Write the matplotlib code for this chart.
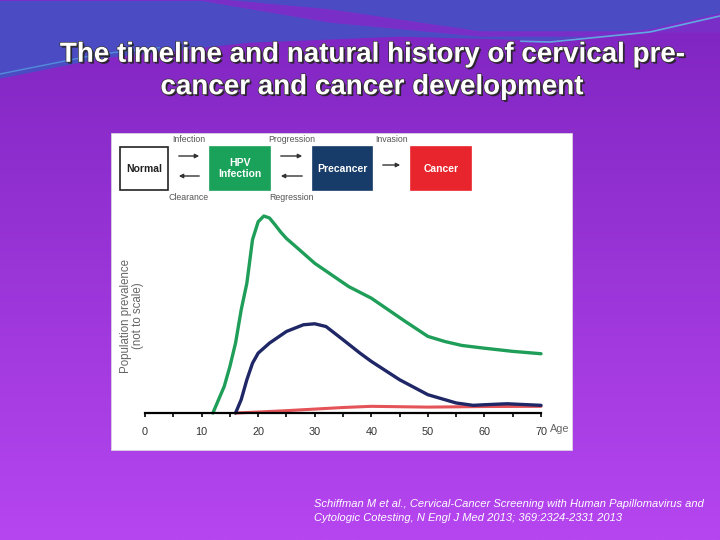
import numpy as np
import matplotlib
matplotlib.use("Agg")
import matplotlib.pyplot as plt
import matplotlib.patheffects as pe
from matplotlib.patches import Rectangle, FancyArrowPatch

# ------------------------------------------------------------------------------
# data (prevalence in arbitrary units, peak = 100)
#
green_age = [12, 13, 14, 15, 16, 17, 18, 19, 20, 21, 22, 23, 24, 25, 27, 30,
             33, 36, 40, 43, 46, 50, 53, 56, 60, 65, 70]
green_val = [0, 6.8, 13.5, 23.6, 35.5, 52.4, 65.9, 88.0, 97.1, 100, 99.0, 95.5,
             91.8, 88.6, 83.6, 76.0, 70.1, 64.2, 58.3, 52.4, 46.5, 38.9, 36.3,
             34.3, 32.9, 31.3, 30.1]

navy_age = [16, 17, 18, 19, 20, 22, 25, 28, 30, 32, 35, 38, 40, 45, 50, 55,
            58, 60, 64, 70]
navy_val = [0, 6.8, 16.9, 25.3, 30.4, 35.5, 41.4, 44.8, 45.3, 43.9, 37.2, 30.4,
            26.2, 16.9, 9.3, 5.1, 3.9, 4.2, 4.7, 3.9]

red_age = [16, 20, 25, 30, 35, 40, 50, 60, 70]
red_val = [0, 0.5, 1.2, 2.0, 2.8, 3.4, 3.0, 3.3, 3.4]

age_ticks = [0, 10, 20, 30, 40, 50, 60, 70]

stages = ["Normal", "HPV\nInfection", "Precancer", "Cancer"]
stage_colors = ["white", "#1aa15a", "#173c6a", "#e8242c"]
forward_labels = ["Infection", "Progression", "Invasion"]
backward_labels = ["Clearance", "Regression", None]

title_lines = "The timeline and natural history of cervical pre-\ncancer and cancer development"
citation = ("Schiffman M et al., Cervical-Cancer Screening with Human Papillomavirus and\n"
            "Cytologic Cotesting, N Engl J Med 2013; 369:2324-2331 2013")

W, H = 720, 540
figure = plt.figure(figsize=(W / 100, H / 100), dpi=100)

# ------------------------------------------------------------------------------
# slide background
#
bg = figure.add_axes([0, 0, 1, 1])
bg.set_xlim(0, W)
bg.set_ylim(H, 0)
bg.axis("off")

top = np.array([0x7e, 0x24, 0xc0]) / 255
bottom = np.array([0xb6, 0x46, 0xf0]) / 255
t = np.linspace(0, 1, 256)[:, None]
grad = (top * (1 - t) + bottom * t)[:, None, :].repeat(2, axis=1)
bg.imshow(grad, extent=[0, W, H, 0], aspect="auto", zorder=0)

wx = np.linspace(0, W, 200)
wave = np.interp(wx, [0, 100, 250, 400, 550, 650, 720], [78, 58, 42, 36, 40, 30, 14])
bg.fill_between(wx, 0, wave, color="#4b4cc4", zorder=1)
stripe_top = np.interp(wx, [0, 220, 330, 480, 720], [0, 0, 10, 32, 32])
stripe_bot = np.interp(wx, [0, 200, 330, 480, 720], [0, 0, 22, 36, 36])
bg.fill_between(wx, stripe_top, np.minimum(stripe_bot, wave), color="#7a2ec8", zorder=1)
bg.plot(wx[wx > 520], wave[wx > 520] + 2, color="#58c8e8", lw=1.2, alpha=0.8, zorder=2)
bg.plot(wx[wx < 160], wave[wx < 160] - 4, color="#58b8e8", lw=1.0, alpha=0.6, zorder=2)

shadow = [pe.withSimplePatchShadow(offset=(1.3, -1.3), shadow_rgbFace="#222222", alpha=0.9),
          pe.withStroke(linewidth=1.0, foreground="#333333")]
bg.text(372, 71, title_lines, ha="center", va="center", color="white",
        fontsize=20, fontweight="bold", family="Liberation Sans",
        linespacing=1.32, path_effects=shadow, zorder=5)

bg.text(314, 511, citation, ha="left", va="center", color="white",
        fontsize=8, style="italic", family="Liberation Sans",
        linespacing=1.45, zorder=5)

# white panel
bg.add_patch(Rectangle((111, 133), 461, 317, facecolor="white", edgecolor="#dddddd",
                       lw=0.5, zorder=3))

# ------------------------------------------------------------------------------
# stage diagram
#
box_left = [120, 210, 313, 411]
box_width = [48, 60, 59, 60]
box_top, box_h = 147, 43
for index, name in enumerate(stages):
    face = stage_colors[index]
    bg.add_patch(Rectangle((box_left[index], box_top), box_width[index], box_h,
                           facecolor=face,
                           edgecolor="#222222" if face == "white" else face,
                           lw=1.2, zorder=4))
    bg.text(box_left[index] + box_width[index] / 2, box_top + box_h / 2, name,
            ha="center", va="center", fontsize=7.5, fontweight="bold",
            color="#222222" if face == "white" else "white",
            family="Liberation Sans", linespacing=1.1, zorder=5)

for index in range(len(forward_labels)):
    x0 = box_left[index] + box_width[index] + 8
    x1 = box_left[index + 1] - 8
    xm = (x0 + x1) / 2
    if backward_labels[index] is None:
        ys = [165]
    else:
        ys = [156, 176]
    bg.add_patch(FancyArrowPatch((x0, ys[0]), (x1, ys[0]), arrowstyle="-|>",
                                 mutation_scale=6, lw=1.0, color="#333333", zorder=5))
    bg.text(xm, 140, forward_labels[index], ha="center", va="center",
            fontsize=6.3, color="#555555", family="Liberation Sans", zorder=5)
    if backward_labels[index] is not None:
        bg.add_patch(FancyArrowPatch((x1, ys[1]), (x0, ys[1]), arrowstyle="-|>",
                                     mutation_scale=6, lw=1.0, color="#333333", zorder=5))
        bg.text(xm, 198, backward_labels[index], ha="center", va="center",
                fontsize=6.3, color="#555555", family="Liberation Sans", zorder=5)

# ------------------------------------------------------------------------------
# prevalence curves
#
axes = figure.add_axes([0.170, 0.2169, 0.6207, 0.4013])
axes.patch.set_alpha(0)
axes.set_xlim(-4, 75)
axes.set_ylim(-5, 105)
for side in ["top", "right", "left"]:
    axes.spines[side].set_visible(False)
axes.spines["bottom"].set_position(("data", 0))
axes.spines["bottom"].set_bounds(0, 70)
axes.spines["bottom"].set_linewidth(1.6)
axes.set_xticks(np.arange(0, 71, 5), minor=True)
axes.set_xticks(age_ticks)
axes.set_xticklabels([str(a) for a in age_ticks], fontsize=7.8, color="#333333",
                     family="Liberation Sans")
axes.tick_params(axis="x", which="both", direction="out", length=3, width=1.2, pad=7)
axes.set_yticks([])

axes.plot(red_age, red_val, color="#e0353a", lw=2.2, alpha=0.85, solid_capstyle="round")
axes.plot(green_age, green_val, color="#1e9e58", lw=2.4, solid_capstyle="round")
axes.plot(navy_age, navy_val, color="#1f2766", lw=2.4, solid_capstyle="round")

axes.text(71.5, -8, "Age", ha="left", va="center", fontsize=7.8, color="#666666",
          family="Liberation Sans", clip_on=False)
bg.text(132, 316, "Population prevalence\n(not to scale)", rotation=90,
        ha="center", va="center", fontsize=8.3, color="#666666",
        family="Liberation Sans", linespacing=1.1, zorder=5)

figure.savefig("out.png", dpi=100)
